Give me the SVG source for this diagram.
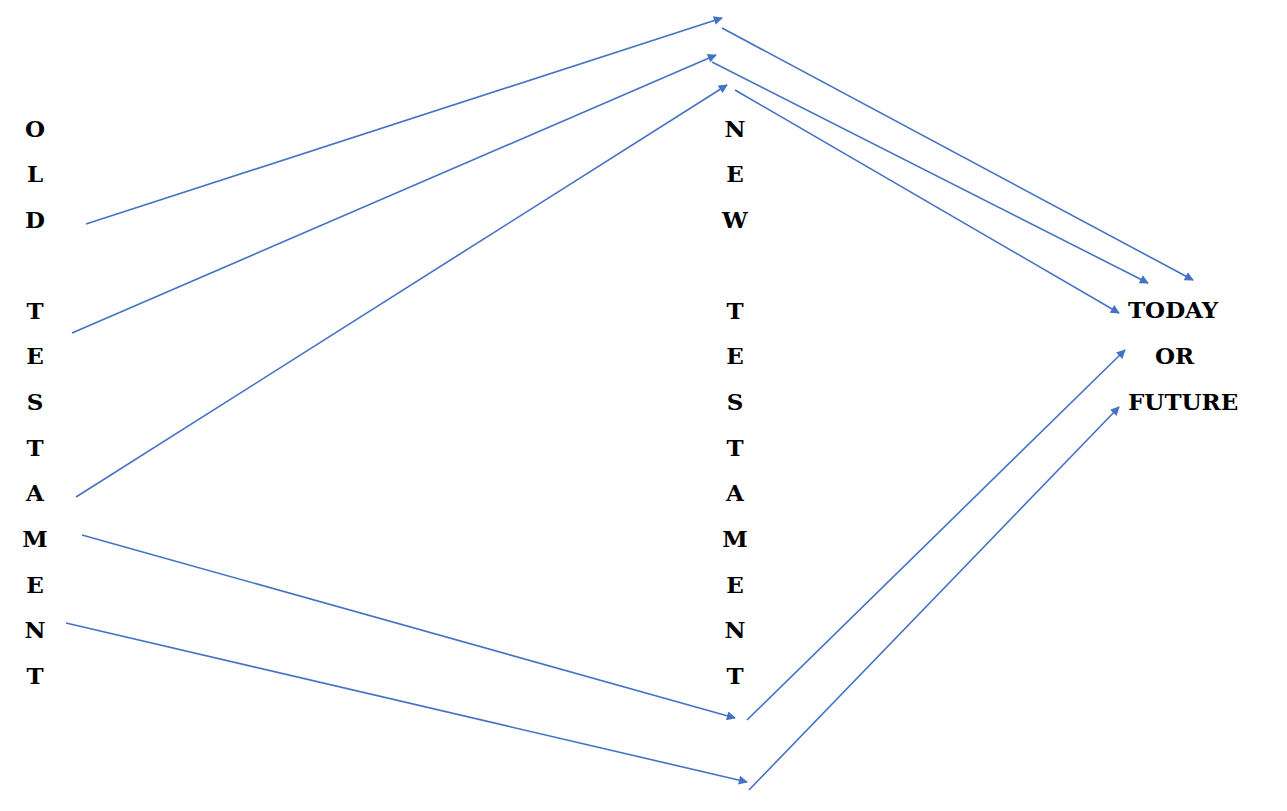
<svg xmlns="http://www.w3.org/2000/svg" width="1287" height="811" viewBox="0 0 1287 811">
<style>
text{font-family:"DejaVu Serif","Liberation Serif",serif;font-weight:bold;font-size:23px;fill:#000}
.c line{stroke:#4472C4;stroke-width:1.6;marker-end:url(#a)}
</style>
<defs><marker id="a" viewBox="0 0 10 10" refX="9" refY="5" markerWidth="10" markerHeight="9" markerUnits="userSpaceOnUse" orient="auto"><path d="M0,0L10,5L0,10z" fill="#4472C4"/></marker></defs>
<rect width="1287" height="811" fill="#fff"/>
<g id="old" text-anchor="middle">
<text x="35" y="137">O</text><text x="35" y="182">L</text><text x="35" y="228">D</text>
<text x="35" y="319">T</text><text x="35" y="364">E</text><text x="35" y="410">S</text><text x="35" y="456">T</text><text x="35" y="501">A</text><text x="35" y="547">M</text><text x="35" y="593">E</text><text x="35" y="638">N</text><text x="35" y="684">T</text>
</g>
<g id="new" text-anchor="middle">
<text x="735" y="137">N</text><text x="735" y="182">E</text><text x="735" y="228">W</text>
<text x="735" y="319">T</text><text x="735" y="364">E</text><text x="735" y="410">S</text><text x="735" y="456">T</text><text x="735" y="501">A</text><text x="735" y="547">M</text><text x="735" y="593">E</text><text x="735" y="638">N</text><text x="735" y="684">T</text>
</g>
<g id="today">
<text x="1128" y="318">TODAY</text><text x="1155" y="364">OR</text><text x="1128" y="410">FUTURE</text>
</g>
<g class="c">
<line x1="86" y1="224" x2="722" y2="18"/>
<line x1="72" y1="333" x2="716" y2="55"/>
<line x1="76" y1="497" x2="727" y2="85"/>
<line x1="722" y1="28" x2="1193" y2="280"/>
<line x1="712" y1="62" x2="1148" y2="283"/>
<line x1="735" y1="90" x2="1119" y2="313"/>
<line x1="82" y1="535" x2="735" y2="718"/>
<line x1="66" y1="623" x2="747" y2="782"/>
<line x1="747" y1="720" x2="1125" y2="350"/>
<line x1="749" y1="790" x2="1119" y2="407"/>
</g>
</svg>
